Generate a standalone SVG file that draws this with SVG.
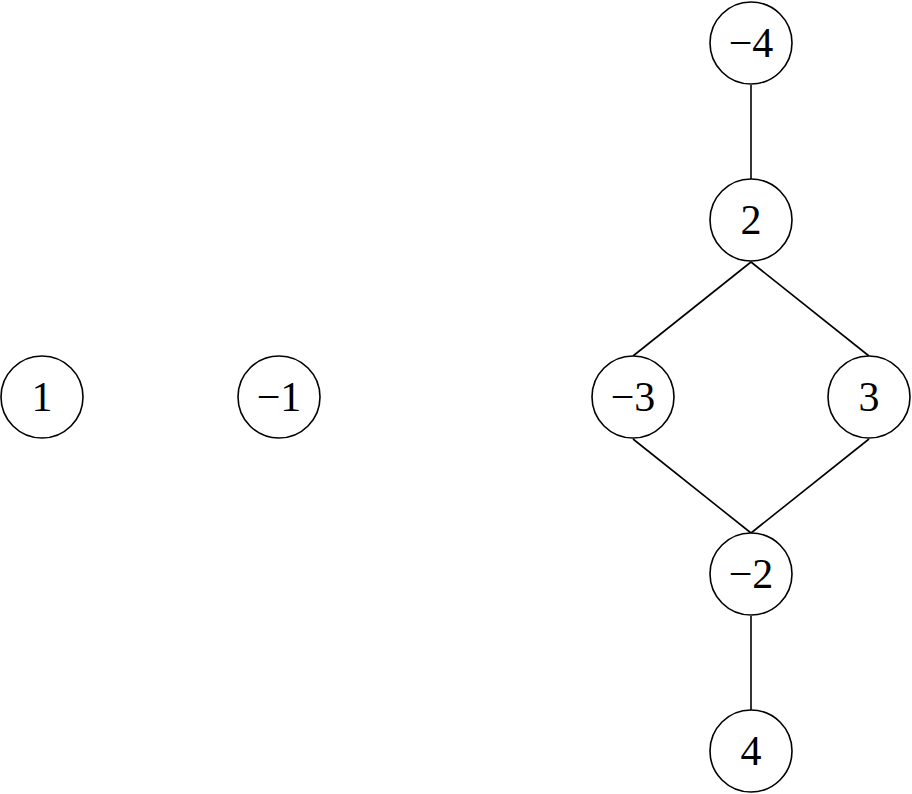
<svg xmlns="http://www.w3.org/2000/svg" width="912" height="794" viewBox="0 0 912 794">
<style>
.n circle{fill:#fff;stroke:#000;stroke-width:1.6}
.n text{font-family:"Liberation Serif","Times New Roman",serif;font-size:42px;text-anchor:middle;fill:#000}
.e line{stroke:#000;stroke-width:1.6}
</style>
<rect width="912" height="794" fill="#fff"/>
<g id="edges" class="e">
<line x1="751" y1="85" x2="751" y2="179"/>
<line x1="751" y1="262" x2="633" y2="356"/>
<line x1="751" y1="262" x2="869" y2="356"/>
<line x1="633" y1="439" x2="751" y2="533"/>
<line x1="869" y1="439" x2="751" y2="533"/>
<line x1="751" y1="616" x2="751" y2="710"/>
</g>
<g id="n1" class="n"><circle cx="42" cy="397" r="41"/><text x="42" y="411">1</text></g>
<g id="nm1" class="n"><circle cx="279" cy="397" r="41"/><text x="279" y="411">−1</text></g>
<g id="nm4" class="n"><circle cx="751" cy="43" r="41"/><text x="751" y="57">−4</text></g>
<g id="n2" class="n"><circle cx="751" cy="220" r="41"/><text x="751" y="234">2</text></g>
<g id="nm3" class="n"><circle cx="633" cy="397" r="41"/><text x="633" y="411">−3</text></g>
<g id="n3" class="n"><circle cx="869" cy="397" r="41"/><text x="869" y="411">3</text></g>
<g id="nm2" class="n"><circle cx="751" cy="574" r="41"/><text x="751" y="588">−2</text></g>
<g id="n4" class="n"><circle cx="751" cy="751" r="41"/><text x="751" y="765">4</text></g>
</svg>
